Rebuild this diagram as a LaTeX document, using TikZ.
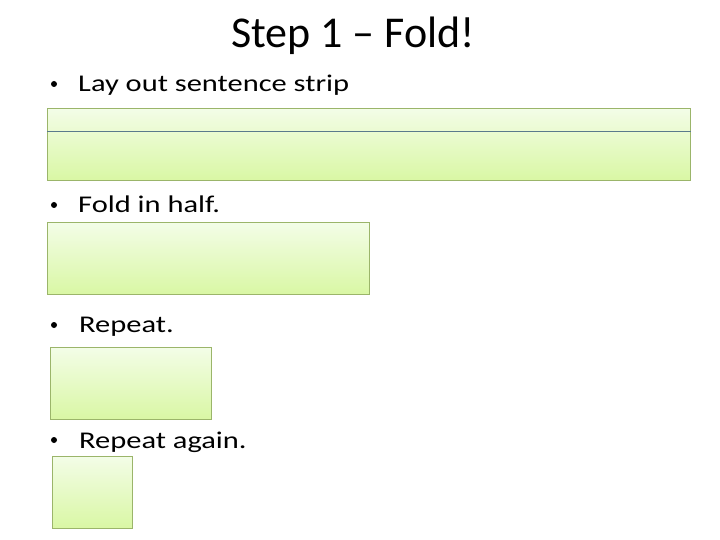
\documentclass[tikz,border=0pt]{standalone}
\usepackage{fontspec}
\setmainfont{Carlito}
\newfontfamily\bulletfont[FakeStretch=1.27]{Carlito}
\definecolor{stripborder}{HTML}{9BB56A}
\definecolor{striptop}{HTML}{F3FDE7}
\definecolor{stripbottom}{HTML}{D9F7A4}
\definecolor{foldcol}{HTML}{5A7A8C}
\tikzset{
  strip/.style={draw=stripborder, line width=1pt, top color=striptop, bottom color=stripbottom,
    inner sep=0pt, anchor=north west, minimum height=72pt},
  bullettext/.style={anchor=base west, inner sep=0pt, font=\bulletfont\fontsize{24}{28}\selectfont},
  bulletdot/.style={circle, fill=black, inner sep=0pt, minimum size=6pt},
  foldline/.style={draw=foldcol, line width=1pt}
}
\begin{document}
\begin{tikzpicture}[x=1pt,y=-1pt]
\useasboundingbox (0,0) rectangle (720,540);
\node[anchor=base, inner sep=0pt, font=\fontsize{44}{50}\selectfont] (title) at (353,48) {Step 1 – Fold!};

\node[bulletdot] (b1) at (54,84) {};
\node[bullettext] (t1) at (78,92) {Lay out sentence strip};
\node[strip, minimum width=643pt] (s1) at (47,108) {};
\coordinate (f1) at (691,132);
\draw[foldline] (s1.west |- f1) -- (f1);

\node[bulletdot] (b2) at (54,205) {};
\node[bullettext] (t2) at (78,212) {Fold in half.};
\node[strip, minimum width=322pt] (s2) at (47,222) {};

\node[bulletdot] (b3) at (54,325) {};
\node[bullettext] (t3) at (79,332) {Repeat.};
\node[strip, minimum width=161pt] (s3) at (50,347) {};

\node[bulletdot] (b4) at (54,440) {};
\node[bullettext] (t4) at (79,448) {Repeat again.};
\node[strip, minimum width=80pt] (s4) at (52,456) {};
\end{tikzpicture}
\end{document}
